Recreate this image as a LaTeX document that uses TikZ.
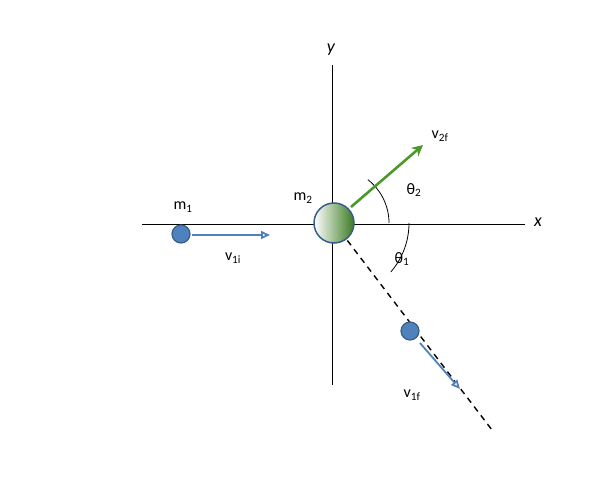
\documentclass[tikz,border=0pt]{standalone}
\usepackage{fontspec}
\setmainfont{Carlito}
\usetikzlibrary{arrows.meta}
\definecolor{ballb}{HTML}{4F81BD}
\definecolor{ballbd}{HTML}{385D8A}
\definecolor{grn}{HTML}{4A9A2A}
\tikzset{ball/.style={circle,fill=ballb,draw=ballbd,line width=1.2pt,inner sep=0pt,minimum size=#1},
 blarrow/.style={draw=ballb,line width=1.8pt,-{Stealth[length=9pt,width=8pt,inset=0pt,open,fill=white]}},
 lbl/.style={font=\fontsize{16}{18}\selectfont}}
\begin{document}
\begin{tikzpicture}[x=1pt,y=-1pt]
\useasboundingbox (0,0) rectangle (602,478);
\coordinate (O) at (334,223);
\draw[line width=0.8pt] (142,224) -- (525,224);
\draw[line width=0.8pt] (332,65) -- (332,385);
\node[lbl,font=\itshape\fontsize{18}{20}\selectfont] (xl) at (538,222) {x};
\node[lbl,font=\itshape\fontsize{18}{20}\selectfont] (yl) at (331,50) {y};
\coordinate (dend) at (492,430);
\draw[dashed,line width=1.4pt,dash pattern=on 6pt off 5pt] (O) -- (dend);
\draw[line width=0.8pt] (334+55,223) arc[start angle=0,end angle=-52,radius=55];
\draw[line width=0.8pt] (334+75,223) arc[start angle=0,end angle=40.7,radius=75];
\node[lbl] (t1) at (402,259) {θ\textsubscript{1}};
\node[lbl] (t2) at (414,190) {θ\textsubscript{2}};
\node[circle,draw=ballbd,line width=1.5pt,left color=white,right color=grn!80!black,minimum size=40pt,inner sep=0pt] (m2) at (O) {};
\node[ball=18pt] (b1) at (181,234) {};
\node[ball=18pt] (b1f) at (410,331) {};
\coordinate (v1s) at (192,235);
\coordinate (v1e) at (270,235);
\draw[blarrow] (v1s) -- (v1e);
\coordinate (v1fs) at (420,343);
\coordinate (v1fe) at (460,389);
\draw[blarrow] (v1fs) -- (v1fe);
\coordinate (g2s) at (351,207);
\coordinate (g2e) at (423,145);
\draw[draw=grn,line width=2.6pt,-{Stealth[length=11pt,width=11pt]}] (g2s) -- (g2e);
\node[lbl] (lm1) at (183,207) {m\textsubscript{1}};
\node[lbl] (lm2) at (303,198) {m\textsubscript{2}};
\node[lbl] (lv1i) at (233,258) {v\textsubscript{1i}};
\node[lbl] (lv2f) at (440,136) {v\textsubscript{2f}};
\node[lbl] (lv1f) at (412,395) {v\textsubscript{1f}};
\end{tikzpicture}
\end{document}
